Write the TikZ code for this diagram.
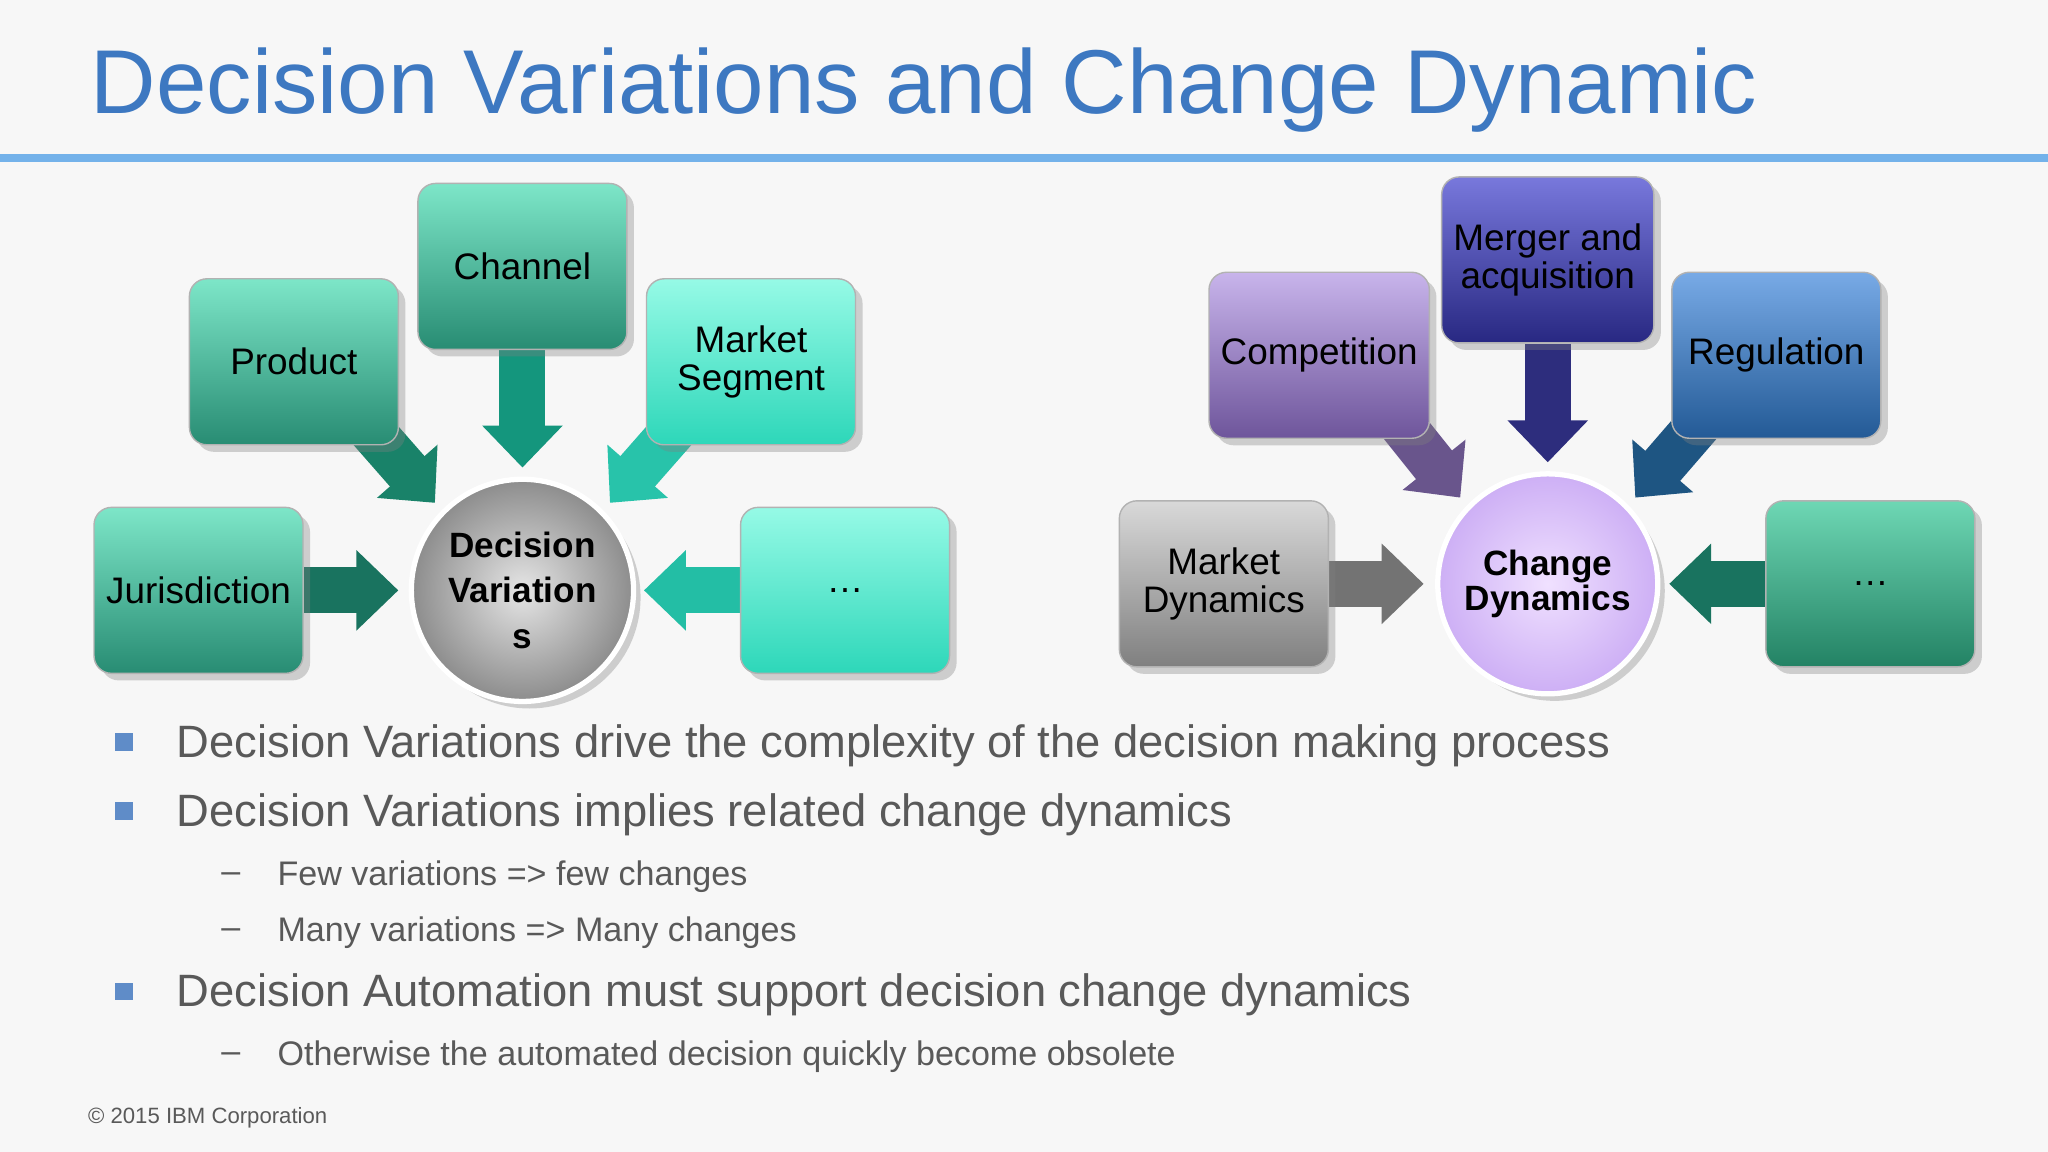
\documentclass[tikz,border=0pt]{standalone}
\usepackage{fontspec}
\setmainfont{Liberation Sans}
\usetikzlibrary{arrows.meta,shadows}
\pgfdeclarelayer{back}\pgfdeclarelayer{arr}
\pgfsetlayers{back,arr,main}
\definecolor{ttl}{RGB}{61,120,193}
\definecolor{rule}{RGB}{116,178,234}
\definecolor{aProd}{RGB}{25,130,105}
\definecolor{aChan}{RGB}{20,150,125}
\definecolor{aMs}{RGB}{40,195,170}
\definecolor{aJur}{RGB}{25,115,95}
\definecolor{aDot}{RGB}{35,190,165}
\definecolor{aComp}{RGB}{105,85,140}
\definecolor{aMer}{RGB}{45,45,125}
\definecolor{aReg}{RGB}{30,85,130}
\definecolor{sqc}{RGB}{95,140,200}
\begin{document}
\begin{tikzpicture}[x=0.013061cm,y=-0.013061cm,
  box/.style={rounded corners=5pt,minimum width=2.09cm,minimum height=1.66cm,align=center,font=\fontsize{10.5}{11}\selectfont,drop shadow={opacity=0.35,shadow xshift=2pt,shadow yshift=-2pt},draw=white!70!black,line width=0.4pt},
  blk/.style={line width=0.46cm,-{Triangle[length=0.42cm,width=0.78cm]}},
  circ/.style={circle,minimum size=2.2cm,draw=white,line width=1.5pt,align=center,font=\bfseries\fontsize{10}{13}\selectfont,drop shadow={opacity=0.35,shadow xshift=2pt,shadow yshift=-2pt}},
  bul/.style={anchor=west,text=black!65,font=\fontsize{12.9}{15}\selectfont},
  sub/.style={anchor=west,text=black!65,font=\fontsize{9.7}{11}\selectfont},
  sq/.style={fill=sqc,minimum size=5pt,inner sep=0pt}]
\useasboundingbox (0,0) rectangle (1568,882);
\begin{pgfonlayer}{back}
\fill[white!97!black] (0,0) rectangle (1568,882);
\end{pgfonlayer}
\node[anchor=west,text=ttl,font=\fontsize{25.8}{28}\selectfont] (title) at (60,69) {Decision Variations and Change Dynamic};
\draw[line width=2.5pt,rule] (0,121) coordinate (l1) -- (1568,121) coordinate (l2);
% left group
\tikzset{tealA/.style={top color={rgb,255:red,125;green,230;blue,200},bottom color={rgb,255:red,40;green,140;blue,115}},
tealB/.style={top color={rgb,255:red,150;green,250;blue,230},bottom color={rgb,255:red,45;green,215;blue,185}}}
\node[box,tealA] (prod) at (225,277) {Product};
\node[box,tealA] (chan) at (400,204) {Channel};
\node[box,tealB] (ms) at (575,277) {Market\\Segment};
\node[box,tealA] (jur) at (152,452) {Jurisdiction};
\node[box,tealB] (dotsL) at (647,452) {\dots};
\node[circ,inner color=white!90!black,outer color=black!45] (dv) at (400,452) {Decision\\Variation\\s};
\begin{pgfonlayer}{arr}
\draw[blk,aProd] ([xshift=-30*0.013061cm,yshift=8pt]prod.south east) -- (333,385);
\draw[blk,aChan] (chan.south) -- (400,358);
\draw[blk,aMs] ([xshift=30*0.013061cm,yshift=8pt]ms.south west) -- (467,385);
\draw[blk,aJur] (jur.east) -- (305,452);
\draw[blk,aDot] (dotsL.west) -- (493,452);
\end{pgfonlayer}
% right group
\node[box,top color={rgb,255:red,200;green,180;blue,235},bottom color={rgb,255:red,110;green,85;blue,155}] (comp) at (1010,272) {Competition};
\node[box,top color={rgb,255:red,120;green,120;blue,220},bottom color={rgb,255:red,40;green,40;blue,130}] (mer) at (1185,199) {Merger and\\acquisition};
\node[box,top color={rgb,255:red,120;green,170;blue,230},bottom color={rgb,255:red,35;green,90;blue,150}] (reg) at (1360,272) {Regulation};
\node[box,top color=white!85!black,bottom color=black!50] (md) at (937,447) {Market\\Dynamics};
\node[box,top color={rgb,255:red,110;green,215;blue,180},bottom color={rgb,255:red,35;green,130;blue,100}] (dotsR) at (1432,447) {\dots};
\node[circ,inner color={rgb,255:red,240;green,225;blue,255},outer color={rgb,255:red,205;green,175;blue,245}] (cd) at (1185,447) {Change\\[-3pt]Dynamics};
\begin{pgfonlayer}{arr}
\draw[blk,aComp] ([xshift=-30*0.013061cm,yshift=8pt]comp.south east) -- (1118,381);
\draw[blk,aMer] (mer.south) -- (1185,354);
\draw[blk,aReg] ([xshift=30*0.013061cm,yshift=8pt]reg.south west) -- (1252,381);
\draw[blk,black!55] (md.east) -- (1090,447);
\draw[blk,aJur] (dotsR.west) -- (1278,447);
\end{pgfonlayer}
% bullets
\node[sq] (s1) at (95,568) {}; \node[bul] (b1) at (126,571) {Decision Variations drive the complexity of the decision making process};
\node[sq] (s2) at (95,621) {}; \node[bul] (b2) at (126,624) {Decision Variations implies related change dynamics};
\node[sub] (d1) at (160,672) {–}; \node[sub] (t1) at (203,671) {Few variations => few changes};
\node[sub] (d2) at (160,715) {–}; \node[sub] (t2) at (203,714) {Many variations => Many changes};
\node[sq] (s3) at (95,759) {}; \node[bul] (b3) at (126,762) {Decision Automation must support decision change dynamics};
\node[sub] (d3) at (160,810) {–}; \node[sub] (t3) at (203,809) {Otherwise the automated decision quickly become obsolete};
\node[anchor=west,text=black!65,font=\fontsize{6.3}{7}\selectfont] (copy) at (58,856) {© 2015 IBM Corporation};
\end{tikzpicture}
\end{document}
